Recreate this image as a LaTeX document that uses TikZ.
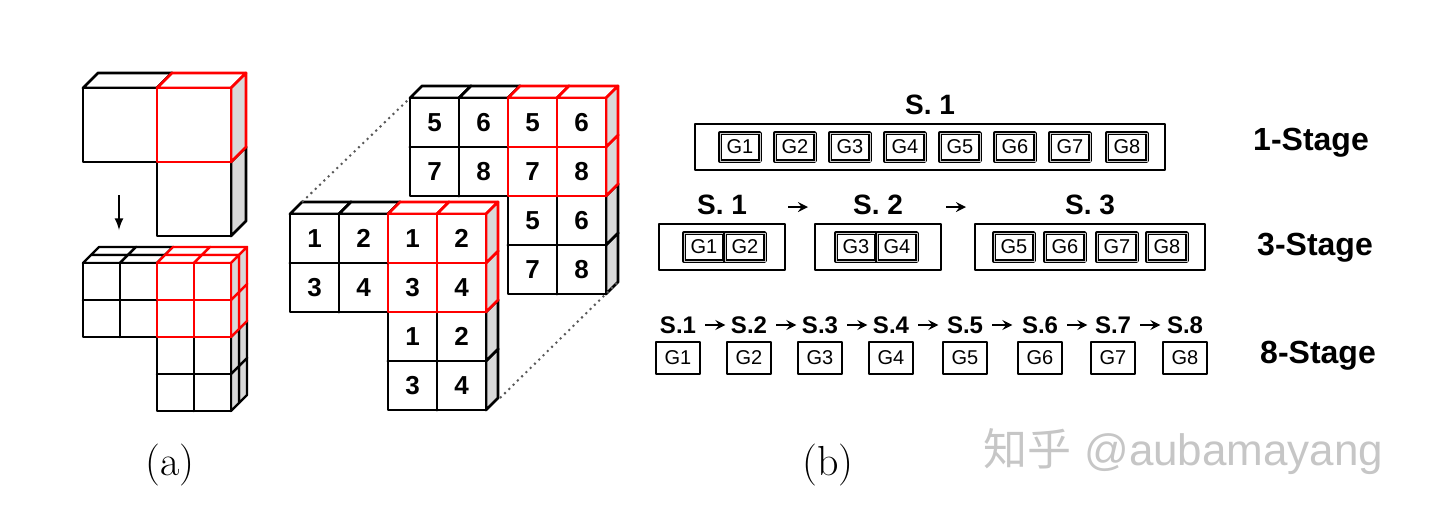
\documentclass[tikz,border=0pt]{standalone}
\usepackage{fontspec}
\newfontfamily\arial{Liberation Sans}
\newfontfamily\cjk{Noto Sans CJK SC}
\usetikzlibrary{positioning}
\definecolor{sidegray}{rgb}{0.85,0.85,0.85}
\definecolor{boxgray}{rgb}{0.6,0.6,0.6}
\tikzset{
  gbox/.style={draw=black,line width=0.6pt,double=boxgray!50,double distance=0.5pt,
    minimum width=20pt,minimum height=14pt,inner sep=0pt,font=\arial\fontsize{10}{10}\selectfont},
  gsbox/.style={draw=black,line width=1.1pt,minimum width=22pt,minimum height=16pt,inner sep=0pt,
    font=\arial\fontsize{10}{10}\selectfont},
  stagebox/.style={draw=black,line width=1.2pt,inner sep=0pt},
  slabel/.style={font=\arial\bfseries\fontsize{14}{14}\selectfont},
  ssmall/.style={font=\arial\bfseries\fontsize{12}{12}\selectfont,inner sep=1pt},
  stage/.style={font=\arial\bfseries\fontsize{16}{16}\selectfont},
  captext/.style={font=\fontsize{21}{21}\selectfont},
  stepar/.style={->,>=stealth,line width=1.2pt,shorten >=-1pt},
}
% cube cell: x, y (top-left of front face), size, depth, colour, label
\newcommand\cubecell[6]{%
  \filldraw[fill=white,draw=#5] (#1,#2) -- ++(#4,-#4) -- ++(#3,0) -- ++(-#4,#4) -- cycle;
  \filldraw[fill=sidegray,draw=#5] (#1+#3,#2) -- ++(#4,-#4) -- ++(0,#3) -- ++(-#4,#4) -- cycle;
  \filldraw[fill=white,draw=#5] (#1,#2) rectangle ++(#3,#3);
  \node[font=\arial\bfseries\fontsize{13}{13}\selectfont] at (#1+#3/2,#2+#3/2) {#6};}
\begin{document}
\begin{tikzpicture}[x=0.5pt,y=-0.5pt,line width=1.4pt,line join=round]
\useasboundingbox (0,0) rectangle (1440,515);
% (a) two big cubes to small cubes
\cubecell{157}{162}{74}{15}{black}{}
\cubecell{83}{88}{74}{15}{black}{}
\cubecell{157}{88}{74}{15}{red}{}
\draw[->,>=latex,line width=1pt] (119,195) -- (119,230);
\begin{scope}[line width=1.2pt]
\foreach \dd in {8,0}{
  \foreach \r/\c/\col in {3/2/black,3/3/black,2/2/black,2/3/black,
      1/0/black,1/1/black,1/2/red,1/3/red,0/0/black,0/1/black,0/2/red,0/3/red}{
    \cubecell{83+37*\c+\dd}{263+37*\r-\dd}{37}{8}{\col}{}
  }
}
\end{scope}
% back block
\foreach \r/\c/\col/\t in {3/2/black/7,3/3/black/8,2/2/black/5,2/3/black/6,
    1/0/black/7,1/1/black/8,1/2/red/7,1/3/red/8,0/0/black/5,0/1/black/6,0/2/red/5,0/3/red/6}{
  \cubecell{410+49*\c}{98+49*\r}{49}{12}{\col}{\t}
}
% front block
\foreach \r/\c/\col/\t in {3/2/black/3,3/3/black/4,2/2/black/1,2/3/black/2,
    1/0/black/3,1/1/black/4,1/2/red/3,1/3/red/4,0/0/black/1,0/1/black/2,0/2/red/1,0/3/red/2}{
  \cubecell{290+49*\c}{214+49*\r}{49}{12}{\col}{\t}
}
\draw[dotted,line width=1pt,gray!70!black] (302,202) -- (410,98);
\draw[dotted,line width=1pt,gray!70!black] (500,398) -- (618,282);
\node[captext] (capa) at (170,465) {(a)};
% (b) 1-stage
\node[stagebox,minimum width=235pt,minimum height=23pt] (one) at (930,147) {};
\foreach \i/\x in {1/740,2/795,3/850,4/905,5/960,6/1015,7/1070,8/1127}
  \node[gbox] (a\i) at (\x,147) {G\i};
\node[slabel,above=0pt of one] {S. 1};
\node[stage] (st1) at (1311,143) {1-Stage};
% 3-stage
\node[stagebox,minimum width=63pt,minimum height=23pt] (t1) at (722,247) {};
\node[stagebox,minimum width=63pt,minimum height=23pt] (t2) at (878,247) {};
\node[stagebox,minimum width=115pt,minimum height=23pt] (t3) at (1090,247) {};
\foreach \i/\x in {1/704,2/745,3/856,4/897,5/1014,6/1065,7/1117,8/1167}
  \node[gbox] (b\i) at (\x,247) {G\i};
\node[slabel,above=0pt of t1] (s1) {S. 1};
\node[slabel,above=0pt of t2] (s2) {S. 2};
\node[slabel,above=0pt of t3] (s3) {S. 3};
\coordinate (ar1) at (788,207);
\coordinate (ar2) at (946,207);
\draw[stepar] (ar1) -- ++(18,0);
\draw[stepar] (ar2) -- ++(18,0);
\node[stage] (st3) at (1315,248) {3-Stage};
% 8-stage
\foreach \i/\x in {1/678,2/749,3/820,4/891,5/965,6/1040,7/1113,8/1185}{
  \node[gsbox] (c\i) at (\x,358) {G\i};
  \node[ssmall,above=2pt of c\i] (l\i) {S.\i};
}
\foreach \i in {1,...,7}
  \draw[stepar] ([xshift=3pt]l\i.east) -- ++(18,0);
\node[stage] (st8) at (1318,356) {8-Stage};
\node[captext] (capb) at (828,465) {(b)};
\node[text=gray!45,font=\fontsize{22}{22}\selectfont,anchor=west] (wm) at (975,452) {{\cjk 知乎} {\arial @aubamayang}};
\end{tikzpicture}
\end{document}
